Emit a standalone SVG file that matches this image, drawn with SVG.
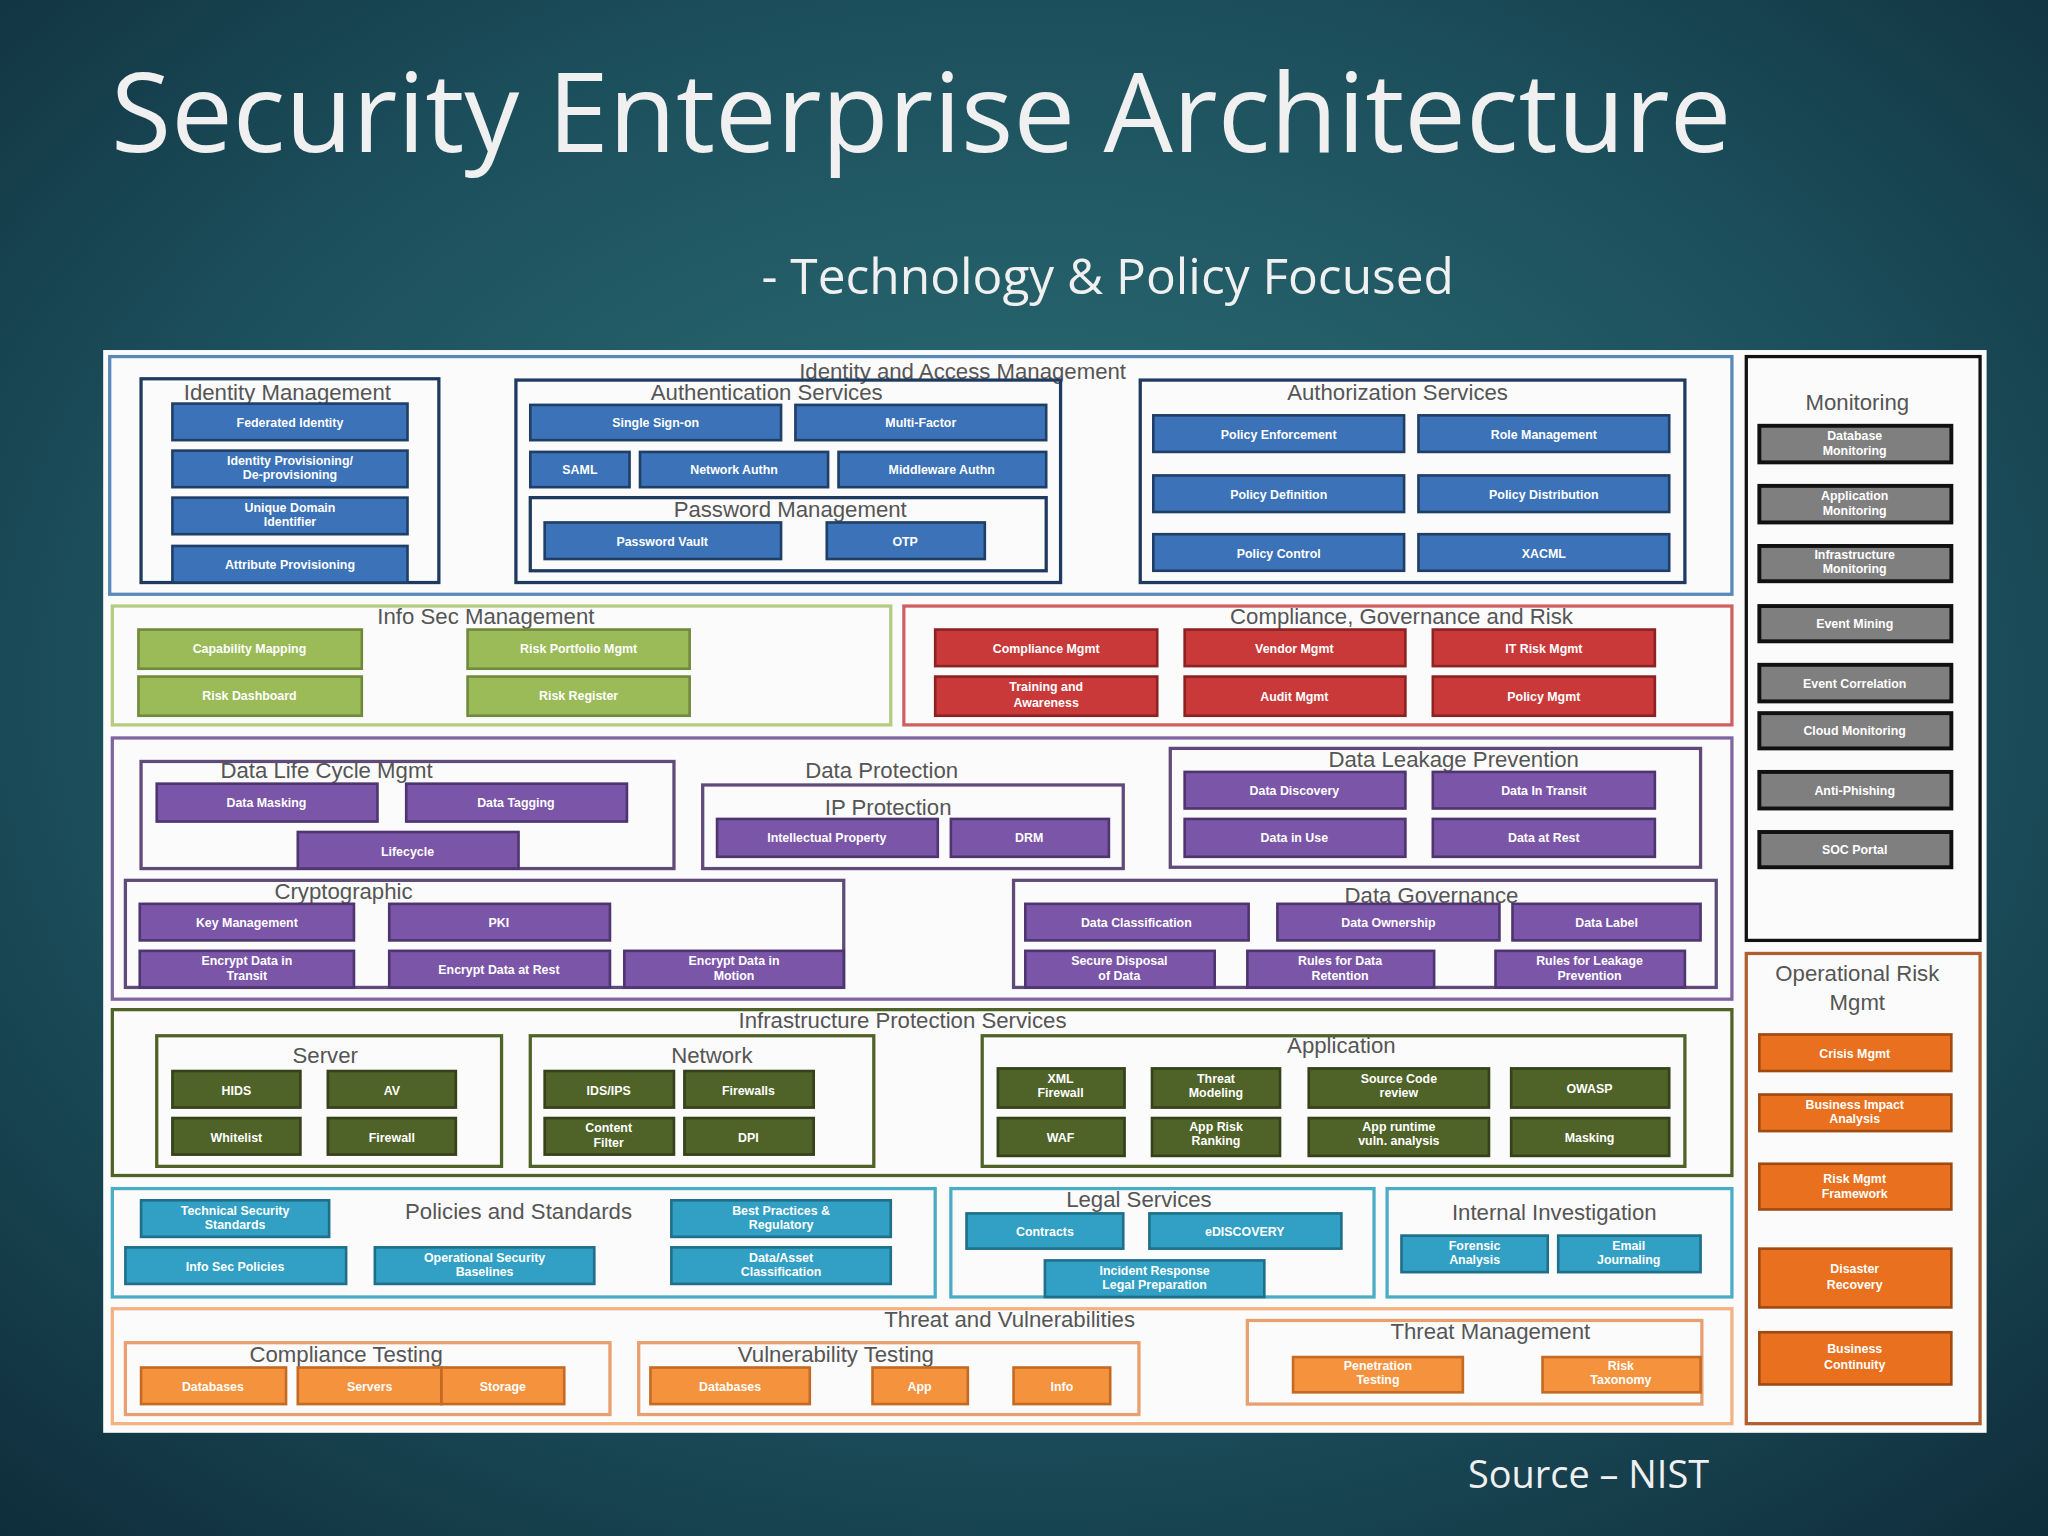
<svg xmlns="http://www.w3.org/2000/svg" width="2048" height="1536" viewBox="0 0 2048 1536">
<defs>
<radialGradient id="bg" cx="0.5" cy="0.45" r="0.75">
<stop offset="0" stop-color="#2f7479"/><stop offset="0.6" stop-color="#1c4f5c"/><stop offset="1" stop-color="#0f2c3a"/>
</radialGradient>
</defs>
<style>
text{font-family:"Liberation Sans",Arial,sans-serif}
.w{fill:#fff;font-size:9.5px;font-weight:bold;text-anchor:middle}
.h{fill:#555;font-size:17px;text-anchor:middle}
.b{fill:#3b72b8;stroke:#203f66;stroke-width:2}
.g{fill:#9bbb59;stroke:#6f8a3a;stroke-width:2}
.r{fill:#c9393a;stroke:#8c2222;stroke-width:2}
.p{fill:#7b55a8;stroke:#4e3570;stroke-width:2}
.k{fill:#7f7f7f;stroke:#111;stroke-width:3}
.o{fill:#e8701e;stroke:#a04a12;stroke-width:2}
.t{fill:#31a0c4;stroke:#1f6f8a;stroke-width:2}
.v{fill:#4f6228;stroke:#34411a;stroke-width:2}
.y{fill:#f5923e;stroke:#c56a22;stroke-width:2}
.c{fill:none;stroke-width:2.5}
</style>
<rect width="2048" height="1536" fill="url(#bg)"/>
<g transform="scale(1.30612)">
<text x="85" y="116" font-size="84" fill="#f0f0f0" style="font-family:'Open Sans','Noto Sans',sans-serif">Security Enterprise Architecture</text>
<text x="583" y="225" font-size="38" fill="#f0f0f0" style="font-family:'Open Sans','Noto Sans',sans-serif">- Technology &amp; Policy Focused</text>
<text x="1124" y="1139" font-size="29" fill="#f0f0f0" style="font-family:'Open Sans','Noto Sans',sans-serif">Source – NIST</text>
<rect x="79" y="268" width="1442" height="829" fill="#fbfbfb"/>

<g id="containers">
<rect class="c" x="84" y="273" width="1242" height="182" stroke="#5a88b8"/><text class="h" x="737" y="290">Identity and Access Management</text>
<rect class="c" x="108" y="290" width="228" height="156" stroke="#1f3a5f"/><text class="h" x="220" y="306">Identity Management</text>
<rect class="c" x="395" y="291" width="417" height="155" stroke="#1f3a5f"/><text class="h" x="587" y="306">Authentication Services</text>
<rect class="c" x="406" y="381" width="395" height="56" stroke="#1f3a5f"/><text class="h" x="605" y="396">Password Management</text>
<rect class="c" x="873" y="291" width="417" height="155" stroke="#1f3a5f"/><text class="h" x="1070" y="306">Authorization Services</text>
<rect class="c" x="1337" y="273" width="179" height="447" stroke="#111"/><text class="h" x="1422" y="314">Monitoring</text>
<rect class="c" x="86" y="464" width="596" height="91" stroke="#b5cc80"/><text class="h" x="372" y="478">Info Sec Management</text>
<rect class="c" x="692" y="464" width="634" height="91" stroke="#d06060"/><text class="h" x="1073" y="478">Compliance, Governance and Risk</text>
<rect class="c" x="86" y="565" width="1240" height="200" stroke="#8064a2"/>
<rect class="c" x="108" y="583" width="408" height="82" stroke="#5f4a7a"/><text class="h" x="250" y="596">Data Life Cycle Mgmt</text>
<text class="h" x="675" y="596">Data Protection</text>
<rect class="c" x="538" y="601" width="322" height="64" stroke="#5f4a7a"/><text class="h" x="680" y="624">IP Protection</text>
<rect class="c" x="896" y="573" width="406" height="91" stroke="#5f4a7a"/><text class="h" x="1113" y="587">Data Leakage Prevention</text>
<rect class="c" x="96" y="674" width="550" height="82" stroke="#5f4a7a"/><text class="h" x="263" y="688">Cryptographic</text>
<rect class="c" x="776" y="674" width="538" height="82" stroke="#5f4a7a"/><text class="h" x="1096" y="691">Data Governance</text>
<rect class="c" x="1337" y="730" width="179" height="360" stroke="#b06030"/><text class="h" x="1422" y="751">Operational Risk</text><text class="h" x="1422" y="773">Mgmt</text>
<rect class="c" x="86" y="773" width="1240" height="127" stroke="#4f6228"/><text class="h" x="691" y="787">Infrastructure Protection Services</text>
<rect class="c" x="120" y="793" width="264" height="100" stroke="#4f6228"/><text class="h" x="249" y="814">Server</text>
<rect class="c" x="406" y="793" width="263" height="100" stroke="#4f6228"/><text class="h" x="545" y="814">Network</text>
<rect class="c" x="752" y="793" width="538" height="100" stroke="#4f6228"/><text class="h" x="1027" y="806">Application</text>
<rect class="c" x="86" y="910" width="630" height="83" stroke="#4bacc6"/><text class="h" x="397" y="933">Policies and Standards</text>
<rect class="c" x="728" y="910" width="324" height="83" stroke="#4bacc6"/><text class="h" x="872" y="924">Legal Services</text>
<rect class="c" x="1062" y="910" width="264" height="83" stroke="#4bacc6"/><text class="h" x="1190" y="934">Internal Investigation</text>
<rect class="c" x="86" y="1002" width="1240" height="88" stroke="#f4b183"/><text class="h" x="773" y="1016">Threat and Vulnerabilities</text>
<rect class="c" x="96" y="1028" width="371" height="55" stroke="#e8a070"/><text class="h" x="265" y="1043">Compliance Testing</text>
<rect class="c" x="489" y="1028" width="383" height="55" stroke="#e8a070"/><text class="h" x="640" y="1043">Vulnerability Testing</text>
<rect class="c" x="955" y="1011" width="348" height="64" stroke="#e8a070"/><text class="h" x="1141" y="1025">Threat Management</text>
</g>

<g id="n1"><rect class="b" x="132" y="309" width="180" height="28"/><text class="w" x="222" y="327">Federated Identity</text></g>
<g id="n2"><rect class="b" x="132" y="345" width="180" height="28"/><text class="w" x="222" y="356">Identity Provisioning/<tspan x="222" dy="11">De-provisioning</tspan></text></g>
<g id="n3"><rect class="b" x="132" y="381" width="180" height="28"/><text class="w" x="222" y="392">Unique Domain<tspan x="222" dy="11">Identifier</tspan></text></g>
<g id="n4"><rect class="b" x="132" y="418" width="180" height="28"/><text class="w" x="222" y="436">Attribute Provisioning</text></g>
<g id="n5"><rect class="b" x="406" y="310" width="192" height="27"/><text class="w" x="502" y="327">Single Sign-on</text></g>
<g id="n6"><rect class="b" x="609" y="310" width="192" height="27"/><text class="w" x="705" y="327">Multi-Factor</text></g>
<g id="n7"><rect class="b" x="406" y="346" width="76" height="27"/><text class="w" x="444" y="363">SAML</text></g>
<g id="n8"><rect class="b" x="490" y="346" width="144" height="27"/><text class="w" x="562" y="363">Network Authn</text></g>
<g id="n9"><rect class="b" x="642" y="346" width="159" height="27"/><text class="w" x="721" y="363">Middleware Authn</text></g>
<g id="n10"><rect class="b" x="417" y="400" width="181" height="28"/><text class="w" x="507" y="418">Password Vault</text></g>
<g id="n11"><rect class="b" x="633" y="400" width="121" height="28"/><text class="w" x="693" y="418">OTP</text></g>
<g id="n12"><rect class="b" x="883" y="318" width="192" height="28"/><text class="w" x="979" y="336">Policy Enforcement</text></g>
<g id="n13"><rect class="b" x="1086" y="318" width="192" height="28"/><text class="w" x="1182" y="336">Role Management</text></g>
<g id="n14"><rect class="b" x="883" y="364" width="192" height="28"/><text class="w" x="979" y="382">Policy Definition</text></g>
<g id="n15"><rect class="b" x="1086" y="364" width="192" height="28"/><text class="w" x="1182" y="382">Policy Distribution</text></g>
<g id="n16"><rect class="b" x="883" y="409" width="192" height="28"/><text class="w" x="979" y="427">Policy Control</text></g>
<g id="n17"><rect class="b" x="1086" y="409" width="192" height="28"/><text class="w" x="1182" y="427">XACML</text></g>

<g id="m1"><rect class="k" x="1347" y="326" width="147" height="28"/><text class="w" x="1420" y="337">Database<tspan x="1420" dy="11">Monitoring</tspan></text></g>
<g id="m2"><rect class="k" x="1347" y="372" width="147" height="28"/><text class="w" x="1420" y="383">Application<tspan x="1420" dy="11">Monitoring</tspan></text></g>
<g id="m3"><rect class="k" x="1347" y="418" width="147" height="27"/><text class="w" x="1420" y="428">Infrastructure<tspan x="1420" dy="11">Monitoring</tspan></text></g>
<g id="m4"><rect class="k" x="1347" y="464" width="147" height="27"/><text class="w" x="1420" y="481">Event Mining</text></g>
<g id="m5"><rect class="k" x="1347" y="509" width="147" height="28"/><text class="w" x="1420" y="527">Event Correlation</text></g>
<g id="m6"><rect class="k" x="1347" y="546" width="147" height="27"/><text class="w" x="1420" y="563">Cloud Monitoring</text></g>
<g id="m7"><rect class="k" x="1347" y="591" width="147" height="28"/><text class="w" x="1420" y="609">Anti-Phishing</text></g>
<g id="m8"><rect class="k" x="1347" y="637" width="147" height="27"/><text class="w" x="1420" y="654">SOC Portal</text></g>

<g id="i1"><rect class="g" x="106" y="482" width="171" height="30"/><text class="w" x="191" y="500">Capability Mapping</text></g>
<g id="i2"><rect class="g" x="358" y="482" width="170" height="30"/><text class="w" x="443" y="500">Risk Portfolio Mgmt</text></g>
<g id="i3"><rect class="g" x="106" y="518" width="171" height="30"/><text class="w" x="191" y="536">Risk Dashboard</text></g>
<g id="i4"><rect class="g" x="358" y="518" width="170" height="30"/><text class="w" x="443" y="536">Risk Register</text></g>

<g id="c1"><rect class="r" x="716" y="482" width="170" height="28"/><text class="w" x="801" y="500">Compliance Mgmt</text></g>
<g id="c2"><rect class="r" x="907" y="482" width="169" height="28"/><text class="w" x="991" y="500">Vendor Mgmt</text></g>
<g id="c3"><rect class="r" x="1097" y="482" width="170" height="28"/><text class="w" x="1182" y="500">IT Risk Mgmt</text></g>
<g id="c4"><rect class="r" x="716" y="518" width="170" height="30"/><text class="w" x="801" y="529">Training and<tspan x="801" dy="12">Awareness</tspan></text></g>
<g id="c5"><rect class="r" x="907" y="518" width="169" height="30"/><text class="w" x="991" y="537">Audit Mgmt</text></g>
<g id="c6"><rect class="r" x="1097" y="518" width="170" height="30"/><text class="w" x="1182" y="537">Policy Mgmt</text></g>

<g id="d1"><rect class="p" x="120" y="600" width="169" height="29"/><text class="w" x="204" y="618">Data Masking</text></g>
<g id="d2"><rect class="p" x="311" y="600" width="169" height="29"/><text class="w" x="395" y="618">Data Tagging</text></g>
<g id="d3"><rect class="p" x="228" y="637" width="169" height="28"/><text class="w" x="312" y="655">Lifecycle</text></g>
<g id="d4"><rect class="p" x="549" y="627" width="169" height="29"/><text class="w" x="633" y="645">Intellectual Property</text></g>
<g id="d5"><rect class="p" x="728" y="627" width="121" height="29"/><text class="w" x="788" y="645">DRM</text></g>
<g id="d6"><rect class="p" x="907" y="591" width="169" height="28"/><text class="w" x="991" y="609">Data Discovery</text></g>
<g id="d7"><rect class="p" x="1097" y="591" width="170" height="28"/><text class="w" x="1182" y="609">Data In Transit</text></g>
<g id="d8"><rect class="p" x="907" y="627" width="169" height="29"/><text class="w" x="991" y="645">Data in Use</text></g>
<g id="d9"><rect class="p" x="1097" y="627" width="170" height="29"/><text class="w" x="1182" y="645">Data at Rest</text></g>
<g id="d10"><rect class="p" x="107" y="692" width="164" height="28"/><text class="w" x="189" y="710">Key Management</text></g>
<g id="d11"><rect class="p" x="298" y="692" width="169" height="28"/><text class="w" x="382" y="710">PKI</text></g>
<g id="d12"><rect class="p" x="107" y="728" width="164" height="28"/><text class="w" x="189" y="739">Encrypt Data in<tspan x="189" dy="11">Transit</tspan></text></g>
<g id="d13"><rect class="p" x="298" y="728" width="169" height="28"/><text class="w" x="382" y="746">Encrypt Data at Rest</text></g>
<g id="d14"><rect class="p" x="478" y="728" width="168" height="28"/><text class="w" x="562" y="739">Encrypt Data in<tspan x="562" dy="11">Motion</tspan></text></g>
<g id="d15"><rect class="p" x="785" y="692" width="171" height="28"/><text class="w" x="870" y="710">Data Classification</text></g>
<g id="d16"><rect class="p" x="978" y="692" width="170" height="28"/><text class="w" x="1063" y="710">Data Ownership</text></g>
<g id="d17"><rect class="p" x="1158" y="692" width="144" height="28"/><text class="w" x="1230" y="710">Data Label</text></g>
<g id="d18"><rect class="p" x="785" y="728" width="145" height="28"/><text class="w" x="857" y="739">Secure Disposal<tspan x="857" dy="11">of Data</tspan></text></g>
<g id="d19"><rect class="p" x="955" y="728" width="143" height="28"/><text class="w" x="1026" y="739">Rules for Data<tspan x="1026" dy="11">Retention</tspan></text></g>
<g id="d20"><rect class="p" x="1145" y="728" width="145" height="28"/><text class="w" x="1217" y="739">Rules for Leakage<tspan x="1217" dy="11">Prevention</tspan></text></g>

<g id="o1"><rect class="o" x="1347" y="792" width="147" height="28"/><text class="w" x="1420" y="810">Crisis Mgmt</text></g>
<g id="o2"><rect class="o" x="1347" y="838" width="147" height="28"/><text class="w" x="1420" y="849">Business Impact<tspan x="1420" dy="11">Analysis</tspan></text></g>
<g id="o3"><rect class="o" x="1347" y="891" width="147" height="35"/><text class="w" x="1420" y="906">Risk Mgmt<tspan x="1420" dy="11">Framework</tspan></text></g>
<g id="o4"><rect class="o" x="1347" y="956" width="147" height="45"/><text class="w" x="1420" y="975">Disaster<tspan x="1420" dy="12">Recovery</tspan></text></g>
<g id="o5"><rect class="o" x="1347" y="1020" width="147" height="40"/><text class="w" x="1420" y="1036">Business<tspan x="1420" dy="12">Continuity</tspan></text></g>

<g id="v1"><rect class="v" x="132" y="820" width="98" height="28"/><text class="w" x="181" y="838">HIDS</text></g>
<g id="v2"><rect class="v" x="251" y="820" width="98" height="28"/><text class="w" x="300" y="838">AV</text></g>
<g id="v3"><rect class="v" x="132" y="856" width="98" height="28"/><text class="w" x="181" y="874">Whitelist</text></g>
<g id="v4"><rect class="v" x="251" y="856" width="98" height="28"/><text class="w" x="300" y="874">Firewall</text></g>
<g id="v5"><rect class="v" x="417" y="820" width="99" height="28"/><text class="w" x="466" y="838">IDS/IPS</text></g>
<g id="v6"><rect class="v" x="524" y="820" width="99" height="28"/><text class="w" x="573" y="838">Firewalls</text></g>
<g id="v7"><rect class="v" x="417" y="856" width="99" height="28"/><text class="w" x="466" y="867">Content<tspan x="466" dy="11">Filter</tspan></text></g>
<g id="v8"><rect class="v" x="524" y="856" width="99" height="28"/><text class="w" x="573" y="874">DPI</text></g>
<g id="v9"><rect class="v" x="764" y="818" width="97" height="30"/><text class="w" x="812" y="829">XML<tspan x="812" dy="11">Firewall</tspan></text></g>
<g id="v10"><rect class="v" x="882" y="818" width="98" height="30"/><text class="w" x="931" y="829">Threat<tspan x="931" dy="11">Modeling</tspan></text></g>
<g id="v11"><rect class="v" x="1002" y="818" width="138" height="30"/><text class="w" x="1071" y="829">Source Code<tspan x="1071" dy="11">review</tspan></text></g>
<g id="v12"><rect class="v" x="1157" y="818" width="121" height="30"/><text class="w" x="1217" y="837">OWASP</text></g>
<g id="v13"><rect class="v" x="764" y="856" width="97" height="29"/><text class="w" x="812" y="874">WAF</text></g>
<g id="v14"><rect class="v" x="882" y="856" width="98" height="29"/><text class="w" x="931" y="866">App Risk<tspan x="931" dy="11">Ranking</tspan></text></g>
<g id="v15"><rect class="v" x="1002" y="856" width="138" height="29"/><text class="w" x="1071" y="866">App runtime<tspan x="1071" dy="11">vuln. analysis</tspan></text></g>
<g id="v16"><rect class="v" x="1157" y="856" width="121" height="29"/><text class="w" x="1217" y="874">Masking</text></g>

<g id="t1"><rect class="t" x="108" y="919" width="144" height="28"/><text class="w" x="180" y="930">Technical Security<tspan x="180" dy="11">Standards</tspan></text></g>
<g id="t2"><rect class="t" x="514" y="919" width="168" height="28"/><text class="w" x="598" y="930">Best Practices &amp;<tspan x="598" dy="11">Regulatory</tspan></text></g>
<g id="t3"><rect class="t" x="96" y="955" width="169" height="28"/><text class="w" x="180" y="973">Info Sec Policies</text></g>
<g id="t4"><rect class="t" x="287" y="955" width="168" height="28"/><text class="w" x="371" y="966">Operational Security<tspan x="371" dy="11">Baselines</tspan></text></g>
<g id="t5"><rect class="t" x="514" y="955" width="168" height="28"/><text class="w" x="598" y="966">Data/Asset<tspan x="598" dy="11">Classification</tspan></text></g>
<g id="t6"><rect class="t" x="740" y="929" width="120" height="27"/><text class="w" x="800" y="946">Contracts</text></g>
<g id="t7"><rect class="t" x="880" y="929" width="147" height="27"/><text class="w" x="953" y="946">eDISCOVERY</text></g>
<g id="t8"><rect class="t" x="800" y="965" width="168" height="28"/><text class="w" x="884" y="976">Incident Response<tspan x="884" dy="11">Legal Preparation</tspan></text></g>
<g id="t9"><rect class="t" x="1073" y="946" width="112" height="28"/><text class="w" x="1129" y="957">Forensic<tspan x="1129" dy="11">Analysis</tspan></text></g>
<g id="t10"><rect class="t" x="1193" y="946" width="109" height="28"/><text class="w" x="1247" y="957">Email<tspan x="1247" dy="11">Journaling</tspan></text></g>

<g id="y1"><rect class="y" x="108" y="1047" width="111" height="28"/><text class="w" x="163" y="1065">Databases</text></g>
<g id="y2"><rect class="y" x="228" y="1047" width="110" height="28"/><text class="w" x="283" y="1065">Servers</text></g>
<g id="y3"><rect class="y" x="338" y="1047" width="94" height="28"/><text class="w" x="385" y="1065">Storage</text></g>
<g id="y4"><rect class="y" x="498" y="1047" width="122" height="28"/><text class="w" x="559" y="1065">Databases</text></g>
<g id="y5"><rect class="y" x="668" y="1047" width="73" height="28"/><text class="w" x="704" y="1065">App</text></g>
<g id="y6"><rect class="y" x="776" y="1047" width="74" height="28"/><text class="w" x="813" y="1065">Info</text></g>
<g id="y7"><rect class="y" x="990" y="1039" width="130" height="27"/><text class="w" x="1055" y="1049">Penetration<tspan x="1055" dy="11">Testing</tspan></text></g>
<g id="y8"><rect class="y" x="1181" y="1039" width="121" height="27"/><text class="w" x="1241" y="1049">Risk<tspan x="1241" dy="11">Taxonomy</tspan></text></g>
</g>
</svg>
